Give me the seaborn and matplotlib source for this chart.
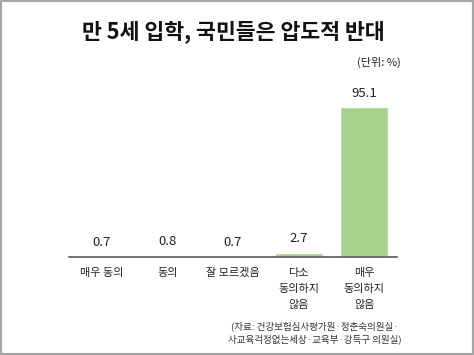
import matplotlib
matplotlib.use("Agg")
import matplotlib.pyplot as plt
import seaborn as sns
import pandas as pd
from matplotlib.patches import Rectangle

categories = ["매우 동의", "동의", "잘 모르겠음", "다소\n동의하지\n않음", "매우\n동의하지\n않음"]
values = [0.7, 0.8, 0.7, 2.7, 95.1]
value_labels = ["0.7", "0.8", "0.7", "2.7", "95.1"]

title = "만 5세 입학, 국민들은 압도적 반대"
unit = "(단위: %)"
source = "(자료: 건강보험심사평가원·정춘숙의원실·\n사교육걱정없는세상·교육부·강득구 의원실)"

sns.set_theme(style="white")
plt.rcParams["font.family"] = ["Noto Sans CJK KR", "DejaVu Sans"]

df = pd.DataFrame({"cat": categories, "val": values})

fig = plt.figure(figsize=(4.74, 3.55), dpi=100)
ax = fig.add_axes([69 / 474, 98 / 355, 328 / 474, 160 / 355])
sns.barplot(data=df, x="cat", y="val", color="#a9d18e", saturation=1, width=0.73, ax=ax)

ax.set_ylim(0, 95.1 * 160 / 150)
ax.set_xlim(-0.5, len(categories) - 0.5)
ax.set_xlabel("")
ax.set_ylabel("")
ax.set_yticks([])
for s in ["top", "left", "right"]:
    ax.spines[s].set_visible(False)
ax.spines["bottom"].set_color("#595959")
ax.spines["bottom"].set_linewidth(1.2)

ax.set_xticks(range(len(categories)))
ax.set_xticklabels(categories, fontsize=8, color="#222222", linespacing=1.75, va="top")
ax.tick_params(axis="x", which="major", length=0, pad=8)
ax.set_xticks([i - 0.5 for i in range(len(categories) + 1)], minor=True)
ax.tick_params(axis="x", which="minor", length=3, width=1, color="#595959", direction="out")

for i, (v, lab) in enumerate(zip(values, value_labels)):
    ax.annotate(lab, (i, v), xytext=(0, 10), textcoords="offset points",
                ha="center", va="center", fontsize=9.5, color="#222222")

fig.text(233 / 474, 1 - 33 / 355, title, ha="center", va="center",
         fontsize=15.6, fontweight="bold", color="#111111")
fig.text(401 / 474, 1 - 62 / 355, unit, ha="right", va="center", fontsize=8, color="#222222")
fig.text(315 / 474, 1 - 333 / 355, source, ha="center", va="center", fontsize=6.9,
         color="#333333", linespacing=1.45)

fig.patches.append(Rectangle((0, 0), 1, 1, transform=fig.transFigure, fill=False,
                             edgecolor="#a6a6a6", linewidth=3))

fig.savefig("out.png", dpi=100)
